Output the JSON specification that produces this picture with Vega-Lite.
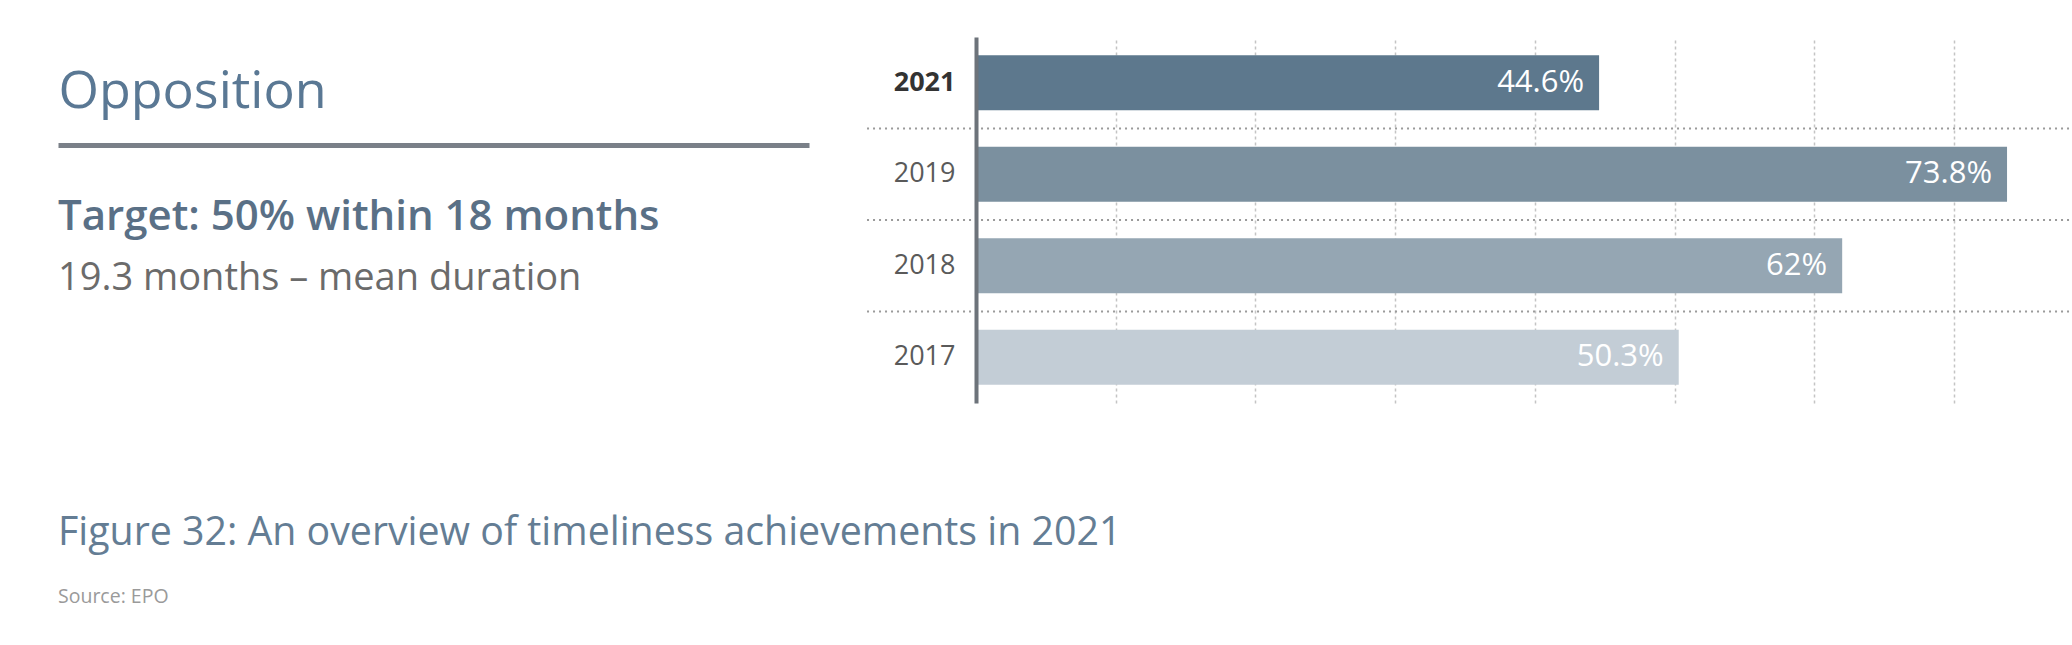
{
  "$schema": "https://vega.github.io/schema/vega-lite/v6.json",
  "padding": {"left": 58, "top": 37, "right": 0, "bottom": 30},
  "background": "white",
  "bounds": "flush",
  "spacing": 167,
  "config": {"view": {"stroke": null}, "font": "Open Sans"},
  "title": {
    "text": "Figure 32: An overview of timeliness achievements in 2021",
    "subtitle": "Source: EPO",
    "orient": "bottom",
    "anchor": "start",
    "font": "Open Sans",
    "fontSize": 39.3,
    "fontWeight": "normal",
    "color": "#647d94",
    "subtitleFont": "Open Sans",
    "subtitleFontSize": 19.5,
    "subtitleColor": "#9a9a9a",
    "subtitlePadding": 35,
    "offset": 111
  },
  "hconcat": [
    {
      "width": 751,
      "height": 366,
      "data": {"values": [
        {"line": "Target: 50% within 18 months", "role": "target"},
        {"line": "19.3 months – mean duration", "role": "mean"}
      ]},
      "encoding": {
        "x": {
          "datum": 0,
          "type": "quantitative",
          "scale": {"domain": [0, 1]},
          "axis": {
            "orient": "top",
            "offset": -108,
            "domain": true,
            "domainWidth": 5,
            "domainColor": "#7a8088",
            "ticks": false,
            "labels": false,
            "grid": false,
            "title": "Opposition",
            "titleFont": "Open Sans",
            "titleFontSize": 52,
            "titleFontWeight": "normal",
            "titleColor": "#5a7894",
            "titleAnchor": "start",
            "titleAlign": "left",
            "titlePadding": 27
          }
        },
        "y": {
          "field": "line",
          "type": "ordinal",
          "scale": {
            "type": "point",
            "domain": ["Target: 50% within 18 months", "19.3 months – mean duration"],
            "range": [193, 253],
            "padding": 0
          },
          "axis": null
        },
        "text": {"field": "line"}
      },
      "layer": [
        {
          "transform": [{"filter": "datum.role == 'target'"}],
          "mark": {"type": "text", "align": "left", "baseline": "alphabetic", "fontSize": 42, "fontWeight": 600, "color": "#5a7086"}
        },
        {
          "transform": [{"filter": "datum.role == 'mean'"}],
          "mark": {"type": "text", "align": "left", "baseline": "alphabetic", "fontSize": 38, "color": "#6b6b6b"}
        }
      ]
    },
    {
      "width": 1096,
      "height": 366,
      "data": {"values": [
        {"year": "2021", "share": 0.446},
        {"year": "2019", "share": 0.738},
        {"year": "2018", "share": 0.62},
        {"year": "2017", "share": 0.503}
      ]},
      "encoding": {
        "y": {
          "field": "year",
          "type": "nominal",
          "sort": ["2021", "2019", "2018", "2017"],
          "scale": {"paddingInner": 0.4, "paddingOuter": 0.2},
          "axis": {
            "orient": "left",
            "domain": true,
            "domainWidth": 4,
            "domainColor": "#6d737a",
            "ticks": false,
            "labelPadding": 21,
            "labelFont": "Open Sans",
            "labelFontSize": 27,
            "labelColor": {"condition": {"test": "datum.value == '2021'", "value": "#333333"}, "value": "#5a5a5a"},
            "labelFontWeight": {"condition": {"test": "datum.value == '2021'", "value": "bold"}, "value": "normal"},
            "title": null,
            "zindex": 1
          }
        }
      },
      "layer": [
        {
          "mark": {"type": "bar"},
          "encoding": {
            "x": {
              "field": "share",
              "type": "quantitative",
              "scale": {"domain": [0, 0.7845], "nice": false},
              "axis": {
                "orient": "bottom",
                "values": [0.1, 0.2, 0.3, 0.4, 0.5, 0.6, 0.7],
                "grid": true,
                "gridDash": [3, 3],
                "gridColor": "#c4c4c4",
                "gridWidth": 1.5,
                "labels": false,
                "ticks": false,
                "domain": false,
                "title": null
              }
            },
            "color": {
              "field": "year",
              "type": "nominal",
              "scale": {"domain": ["2021", "2019", "2018", "2017"], "range": ["#5d788d", "#7b909f", "#95a6b3", "#c3cdd6"]},
              "legend": null
            }
          }
        },
        {
          "mark": {"type": "text", "align": "right", "baseline": "middle", "dx": -15, "fontSize": 31, "color": "white", "font": "Open Sans"},
          "encoding": {
            "x": {"field": "share", "type": "quantitative"},
            "text": {"field": "share", "type": "quantitative", "format": ".1~%"}
          }
        },
        {
          "transform": [{"filter": "datum.year != '2021'"}],
          "mark": {"type": "rule", "strokeDash": [2, 4], "strokeWidth": 2, "color": "#9a9a9a", "yOffset": -18.3},
          "encoding": {
            "y": {"field": "year", "type": "nominal", "bandPosition": 0},
            "x": {"datum": -0.078},
            "x2": {"datum": 0.7845}
          }
        }
      ]
    }
  ]
}
